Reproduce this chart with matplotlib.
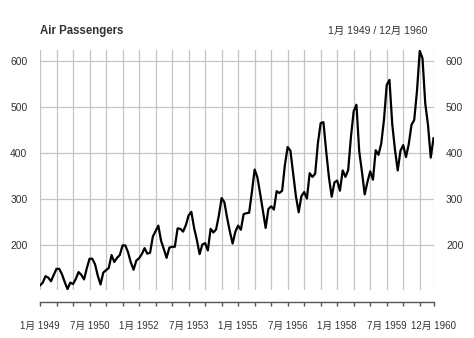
import matplotlib
matplotlib.use("Agg")
import matplotlib.pyplot as plt

# AirPassengers, monthly 1949-1960
passengers = [
    112, 118, 132, 129, 121, 135, 148, 148, 136, 119, 104, 118,
    115, 126, 141, 135, 125, 149, 170, 170, 158, 133, 114, 140,
    145, 150, 178, 163, 172, 178, 199, 199, 184, 162, 146, 166,
    171, 180, 193, 181, 183, 218, 230, 242, 209, 191, 172, 194,
    196, 196, 236, 235, 229, 243, 264, 272, 237, 211, 180, 201,
    204, 188, 235, 227, 234, 264, 302, 293, 259, 229, 203, 229,
    242, 233, 267, 269, 270, 315, 364, 347, 312, 274, 237, 278,
    284, 277, 317, 313, 318, 374, 413, 405, 355, 306, 271, 306,
    315, 301, 356, 348, 355, 422, 465, 467, 404, 347, 305, 336,
    340, 318, 362, 348, 363, 435, 491, 505, 404, 359, 310, 337,
    360, 342, 406, 396, 420, 472, 548, 559, 463, 407, 362, 405,
    417, 391, 419, 461, 472, 535, 622, 606, 508, 461, 390, 432,
]
start_year = 1949
y_ticks = [200, 300, 400, 500, 600]
title = "Air Passengers"
range_text = "1月 1949 / 12月 1960"

fonts = ["Liberation Sans", "Noto Sans CJK SC", "DejaVu Sans"]
plt.rcParams["font.family"] = fonts
txt = "#333333"
grid_c = "#c4c4c4"

n = len(passengers)
months = list(range(n))

# grid/tick positions every 6 months plus the last month
tick_pos = list(range(0, n, 6)) + [n - 1]
tick_lab = []
for p in tick_pos:
    if p == n - 1 or p % 18 == 0:
        tick_lab.append(f"{p % 12 + 1}月 {start_year + p // 12}")
    else:
        tick_lab.append("")

fig = plt.figure(figsize=(4.74, 3.38), dpi=100)
ax = fig.add_axes([40 / 474, 48 / 338, 393.5 / 474, 240 / 338])

for p in tick_pos:
    ax.axvline(p, color=grid_c, lw=0.9, zorder=1)
for v in y_ticks:
    ax.axhline(v, color=grid_c, lw=0.9, zorder=1)

ax.plot(months, passengers, color="black", lw=1.6, zorder=3)

ax.set_xlim(0, n - 1)
ax.set_ylim(102, 624)

for s in ["top", "left", "right"]:
    ax.spines[s].set_visible(False)
ax.spines["bottom"].set_position(("outward", 8.5))
ax.spines["bottom"].set_color("#555555")
ax.spines["bottom"].set_linewidth(1.0)

ax.set_xticks(tick_pos)
ax.set_xticklabels(tick_lab)
ax.tick_params(axis="x", direction="out", length=3, width=1.0, color="#555555",
               pad=11, labelsize=7, labelcolor=txt)

ax.set_yticks(y_ticks)
ax.tick_params(axis="y", length=0, pad=9, labelsize=7.5, labelcolor=txt,
               labelleft=True, labelright=True)

fig.text(40 / 474, 1 - 31 / 338, title, fontsize=8.3, fontweight="bold",
         color=txt, ha="left", va="center")
fig.text(427 / 474, 1 - 31 / 338, range_text, fontsize=7.5,
         color=txt, ha="right", va="center")

fig.savefig("out.png", dpi=100)
